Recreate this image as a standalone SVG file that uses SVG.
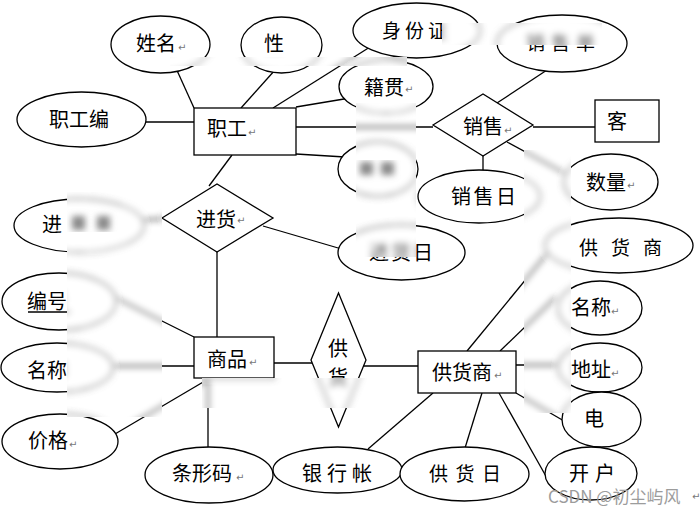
<svg xmlns="http://www.w3.org/2000/svg" xmlns:xlink="http://www.w3.org/1999/xlink" width="700" height="520" viewBox="0 0 700 520">
<style>
.s{fill:#fff;stroke:#000;stroke-width:1.3}
.ln{stroke:#000;stroke-width:1.3;fill:none}
.t{font-family:"Noto Sans CJK SC","Noto Sans",sans-serif;font-size:20px;fill:#000}
.t19{font-size:19px}
.pm{font-family:"DejaVu Sans",sans-serif;font-size:10px;fill:#777}
.wm{font-family:"Noto Sans CJK SC","Noto Sans",sans-serif;font-size:17px;fill:#9c9c9c}
.blob{fill:#8a8a8a}
</style>
<defs>
<filter id="blur" x="-2%" y="-2%" width="104%" height="104%"><feGaussianBlur stdDeviation="3"/></filter>
<clipPath id="bz">
<rect x="170" y="57" width="237" height="9"/>
<rect x="442" y="23" width="160" height="22"/>
<rect x="356" y="103" width="60" height="154"/>
<rect x="524" y="150" width="47" height="263"/>
<rect x="67" y="192" width="95" height="225"/>
<rect x="202" y="378" width="165" height="30"/>
</clipPath>
</defs>
<rect width="700" height="520" fill="#fff"/>
<g id="diagram">
<g id="connectors" class="ln">
<line x1="175" y1="66" x2="194" y2="108"/>
<line x1="275" y1="70" x2="241" y2="108"/>
<line x1="370" y1="47" x2="273" y2="108"/>
<line x1="296" y1="107" x2="350" y2="98"/>
<line x1="296" y1="127" x2="433" y2="127"/>
<line x1="296" y1="154" x2="345" y2="157"/>
<line x1="146" y1="122" x2="194" y2="122"/>
<line x1="232" y1="155" x2="209" y2="186"/>
<line x1="140" y1="220" x2="162" y2="219"/>
<line x1="263" y1="226" x2="345" y2="250"/>
<line x1="217" y1="252" x2="217" y2="337"/>
<line x1="547" y1="70" x2="497" y2="103"/>
<line x1="533" y1="127" x2="595" y2="127"/>
<line x1="483" y1="156" x2="483" y2="172"/>
<line x1="507" y1="142" x2="568" y2="175"/>
<line x1="112" y1="296" x2="194" y2="337"/>
<line x1="110" y1="366" x2="194" y2="366"/>
<line x1="115" y1="434" x2="210" y2="378"/>
<line x1="208" y1="378" x2="208" y2="448"/>
<line x1="274" y1="363" x2="313" y2="363"/>
<line x1="363" y1="366" x2="418" y2="366"/>
<line x1="467" y1="351" x2="550" y2="250"/>
<line x1="500" y1="351" x2="556" y2="297"/>
<line x1="516" y1="365" x2="560" y2="365"/>
<line x1="516" y1="393" x2="564" y2="421"/>
<line x1="433" y1="393" x2="368" y2="449"/>
<line x1="482" y1="393" x2="465" y2="448"/>
<line x1="499" y1="393" x2="547" y2="478"/>
</g>
<g id="n-xingming"><ellipse class="s" cx="160.5" cy="44.5" rx="49.5" ry="28.5"/><text class="t" x="136" y="51">姓名</text><text class="pm" x="178" y="51">↵</text></g>
<g id="n-xing"><ellipse class="s" cx="281.5" cy="45" rx="40.5" ry="28"/><text class="t" x="264" y="51">性</text></g>
<g id="n-shenfenzheng"><ellipse class="s" cx="416.5" cy="30.5" rx="63.5" ry="27.5"/><text class="t t19" x="382" y="38" letter-spacing="4">身份证</text></g>
<g id="n-xiaoshoudan"><ellipse class="s" cx="562" cy="43.5" rx="65" ry="28.5"/><text class="t t19" x="526" y="50" letter-spacing="6">销售单</text></g>
<g id="n-zhigongbian"><ellipse class="s" cx="81.5" cy="119.5" rx="64.5" ry="27.5"/><text class="t" x="49" y="127">职工编</text></g>
<g id="n-zhigong"><rect class="s" x="194" y="108" width="102" height="47"/><text class="t" x="207" y="136">职工</text><text class="pm" x="248" y="136">↵</text></g>
<g id="n-jiguan"><ellipse class="s" cx="386" cy="86.5" rx="47" ry="26.5"/><text class="t" x="364" y="95">籍贯</text><text class="pm" x="405" y="93">↵</text></g>
<g id="n-gongzi"><ellipse class="s" cx="378" cy="169" rx="40" ry="27"/></g>
<g id="n-xiaoshou"><polygon class="s" points="433,125 483,94 533,125 483,156"/><text class="t" x="463" y="134">销售</text><text class="pm" x="504" y="134">↵</text></g>
<g id="n-ke"><rect class="s" x="595" y="100" width="64" height="42"/><text class="t" x="607" y="129">客</text></g>
<g id="n-xiaoshouri"><ellipse class="s" cx="479" cy="196.5" rx="61" ry="26.5"/><text class="t" x="451" y="204" letter-spacing="2.5">销售日</text></g>
<g id="n-shuliang"><ellipse class="s" cx="611" cy="182" rx="47" ry="28"/><text class="t" x="586" y="190">数量</text><text class="pm" x="627" y="189">↵</text></g>
<g id="n-jinhuodan"><ellipse class="s" cx="79" cy="225.5" rx="65" ry="26.5"/><text class="t" x="42" y="232">进</text></g>
<g id="n-jinhuo"><polygon class="s" points="162,218 217,184 273,218 217,252"/><text class="t" x="196" y="227">进货</text><text class="pm" x="237" y="224">↵</text></g>
<g id="n-jinhuori"><ellipse class="s" cx="401.5" cy="252.5" rx="63.5" ry="27.5"/><text class="t" x="369" y="260" letter-spacing="2">进货日</text></g>
<g id="n-gonghuoshang-attr"><ellipse class="s" cx="619" cy="245.5" rx="74" ry="27.5"/><text class="t t19" x="579" y="255" letter-spacing="13">供货商</text></g>
<g id="n-bianhao"><ellipse class="s" cx="59" cy="301.5" rx="57" ry="28.5"/><text class="t" x="27" y="309">编号</text><line class="ln" x1="28" y1="312" x2="70" y2="312"/></g>
<g id="n-mingcheng1"><ellipse class="s" cx="57" cy="367.5" rx="56" ry="24.5"/><text class="t" x="27" y="378">名称</text></g>
<g id="n-jiage"><ellipse class="s" cx="60" cy="441.5" rx="58" ry="27.5"/><text class="t" x="28" y="448">价格</text><text class="pm" x="69" y="448">↵</text></g>
<g id="n-shangpin"><rect class="s" x="194" y="337" width="80" height="41"/><text class="t" x="207" y="367">商品</text><text class="pm" x="249" y="366">↵</text></g>
<g id="n-gonghuo"><polygon class="s" points="311,360 338.5,293 366,360 338.5,427"/><text class="t" x="328" y="356">供<tspan x="328" y="385">货</tspan></text></g>
<g id="n-tiaoxingma"><ellipse class="s" cx="209" cy="475" rx="64" ry="28"/><text class="t" x="172" y="481">条形码</text><text class="pm" x="236" y="481">↵</text></g>
<g id="n-yinhangzhang"><ellipse class="s" cx="337.5" cy="470" rx="64.5" ry="23"/><text class="t" x="302" y="481" letter-spacing="5">银行帐</text></g>
<g id="n-gonghuoshang"><rect class="s" x="418" y="351" width="98" height="42"/><text class="t" x="432" y="380">供货商</text><text class="pm" x="494" y="379">↵</text></g>
<g id="n-mingcheng2"><ellipse class="s" cx="600" cy="308" rx="42" ry="27"/><text class="t" x="571" y="315">名称</text><text class="pm" x="611" y="315">↵</text></g>
<g id="n-dizhi"><ellipse class="s" cx="600" cy="367.5" rx="42" ry="24.5"/><text class="t" x="571" y="377">地址</text><text class="pm" x="611" y="377">↵</text></g>
<g id="n-dian"><ellipse class="s" cx="601.5" cy="419.5" rx="39.5" ry="27.5"/><text class="t" x="584" y="426">电</text></g>
<g id="n-gonghuori"><ellipse class="s" cx="464.5" cy="474" rx="64.5" ry="27"/><text class="t t19" x="429" y="481" letter-spacing="7.5">供货日</text></g>
<g id="n-kaihu"><ellipse class="s" cx="591" cy="473.5" rx="46" ry="26.5"/><text class="t" x="569" y="481" letter-spacing="6">开户</text></g>
</g>
<g id="blur-overlay" clip-path="url(#bz)">
<rect width="700" height="520" fill="#fff"/>
<use xlink:href="#diagram" href="#diagram" filter="url(#blur)"/>
<g filter="url(#blur)">
<rect class="blob" x="72" y="216" width="13" height="14"/>
<rect class="blob" x="97" y="216" width="13" height="14"/>
<rect class="blob" x="360" y="162" width="13" height="13"/>
<rect class="blob" x="381" y="162" width="13" height="13"/>
</g>
</g>
<text class="wm" x="548" y="503">CSDN @初尘屿风</text>
<text class="pm" x="692" y="500">↵</text>
</svg>
